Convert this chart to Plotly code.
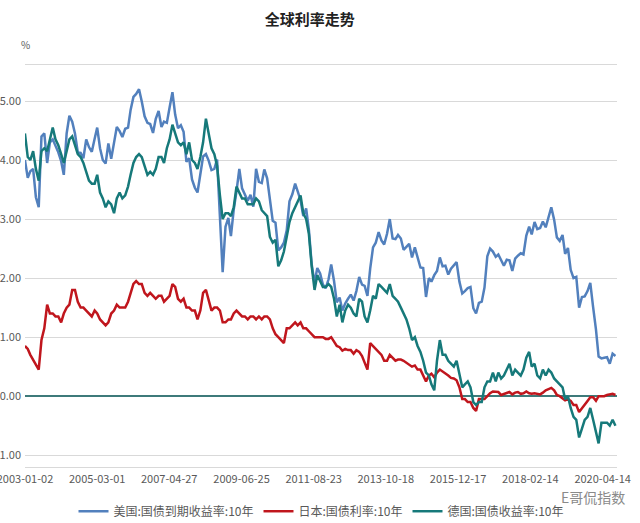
import pandas as pd
import plotly.graph_objects as go

# ---------------- data (monthly readings, Jan 2003 - Sep 2020) ----------------
start_month = "2003-01-01"

us_10y = [
    4.00, 3.70, 3.81, 3.85, 3.37, 3.20, 4.40, 4.45, 3.95, 4.30, 4.35, 4.25,
    4.13, 3.98, 3.75, 4.45, 4.75, 4.65, 4.45, 4.13, 4.12, 4.03, 4.35, 4.22,
    4.14, 4.36, 4.55, 4.20, 4.00, 3.94, 4.28, 4.02, 4.33, 4.56, 4.49, 4.39,
    4.53, 4.55, 4.85, 5.07, 5.12, 5.20, 4.99, 4.74, 4.63, 4.61, 4.46, 4.70,
    4.83, 4.56, 4.65, 4.63, 4.89, 5.15, 4.77, 4.54, 4.59, 4.48, 3.97, 4.03,
    3.67, 3.53, 3.45, 3.77, 4.06, 4.10, 3.99, 3.83, 3.85, 4.01, 2.93, 2.10,
    2.87, 3.02, 2.71, 3.16, 3.47, 3.85, 3.52, 3.40, 3.31, 3.41, 3.21, 3.85,
    3.63, 3.61, 3.84, 3.69, 3.31, 2.97, 2.94, 2.47, 2.52, 2.60, 2.81, 3.30,
    3.42, 3.60, 3.47, 3.32, 3.05, 3.18, 2.82, 2.23, 1.92, 2.17, 2.08, 1.89,
    1.83, 1.98, 2.23, 1.95, 1.59, 1.67, 1.45, 1.57, 1.65, 1.72, 1.62, 1.78,
    2.02, 1.89, 1.87, 1.70, 2.16, 2.52, 2.60, 2.78, 2.64, 2.57, 2.75, 3.00,
    2.67, 2.66, 2.73, 2.67, 2.48, 2.53, 2.58, 2.35, 2.52, 2.35, 2.18, 2.17,
    1.68, 2.00, 1.94, 2.05, 2.12, 2.35, 2.20, 2.21, 2.06, 2.16, 2.21, 2.27,
    1.94, 1.74, 1.78, 1.83, 1.85, 1.49, 1.40, 1.58, 1.60, 1.84, 2.37, 2.50,
    2.45, 2.36, 2.40, 2.29, 2.21, 2.31, 2.30, 2.12, 2.33, 2.38, 2.42, 2.40,
    2.72, 2.87, 2.74, 2.95, 2.83, 2.85, 2.96, 2.86, 3.05, 3.20, 2.99, 2.69,
    2.63, 2.73, 2.41, 2.51, 2.14, 2.00, 2.02, 1.50, 1.68, 1.69, 1.78, 1.92,
    1.51, 1.13, 0.67, 0.64, 0.65, 0.66, 0.55, 0.72, 0.68,
]

jp_10y = [
    0.85, 0.80, 0.70, 0.62, 0.55, 0.45, 0.95, 1.15, 1.55, 1.40, 1.40, 1.35,
    1.35, 1.25, 1.40, 1.50, 1.55, 1.80, 1.80, 1.60, 1.50, 1.50, 1.45, 1.40,
    1.35, 1.45, 1.40, 1.30, 1.25, 1.20, 1.25, 1.40, 1.45, 1.55, 1.50, 1.50,
    1.50, 1.60, 1.75, 1.90, 1.95, 1.90, 1.90, 1.75, 1.70, 1.75, 1.70, 1.65,
    1.70, 1.70, 1.60, 1.65, 1.70, 1.90, 1.85, 1.65, 1.60, 1.65, 1.50, 1.50,
    1.45, 1.45, 1.30, 1.45, 1.75, 1.80, 1.60, 1.45, 1.50, 1.50, 1.45, 1.25,
    1.25, 1.30, 1.30, 1.40, 1.45, 1.40, 1.35, 1.35, 1.30, 1.35, 1.35, 1.30,
    1.35, 1.30, 1.35, 1.35, 1.30, 1.15, 1.05, 1.00, 0.95, 0.90, 1.15, 1.15,
    1.20, 1.25, 1.20, 1.25, 1.15, 1.15, 1.10, 1.05, 1.00, 1.00, 1.00, 1.00,
    0.97, 0.97, 1.00, 0.92, 0.85, 0.83, 0.77, 0.80, 0.78, 0.78, 0.72, 0.78,
    0.75, 0.68, 0.58, 0.45, 0.90, 0.85, 0.80, 0.75, 0.70, 0.60, 0.60, 0.70,
    0.65, 0.60, 0.62, 0.62, 0.60, 0.57, 0.53, 0.50, 0.52, 0.45, 0.45, 0.35,
    0.25, 0.35, 0.38, 0.32, 0.40, 0.45, 0.42, 0.38, 0.35, 0.31, 0.30, 0.27,
    0.15, -0.05, -0.05, -0.10, -0.10, -0.20, -0.25, -0.05, -0.05, -0.05, 0.00, 0.05,
    0.08, 0.08, 0.07, 0.02, 0.04, 0.06, 0.07, 0.03, 0.06, 0.07, 0.04, 0.05,
    0.08, 0.05, 0.04, 0.05, 0.04, 0.03, 0.06, 0.10, 0.12, 0.14, 0.10, 0.02,
    0.00, -0.03, -0.07, -0.05, -0.08, -0.15, -0.15, -0.27, -0.20, -0.15, -0.08, -0.02,
    -0.02, -0.08, 0.00, 0.00, 0.00, 0.02, 0.03, 0.04, 0.02,
]

de_10y = [
    4.45, 4.05, 4.00, 4.15, 3.85, 3.65, 4.15, 4.20, 4.15, 4.35, 4.55, 4.35,
    4.25, 4.10, 3.95, 4.15, 4.35, 4.40, 4.25, 4.10, 4.05, 3.95, 3.80, 3.65,
    3.60, 3.60, 3.75, 3.45, 3.35, 3.20, 3.30, 3.25, 3.10, 3.35, 3.45, 3.35,
    3.40, 3.55, 3.75, 3.95, 4.05, 4.10, 4.05, 3.90, 3.75, 3.80, 3.75, 3.85,
    4.05, 4.05, 3.95, 4.20, 4.35, 4.60, 4.45, 4.30, 4.25, 4.30, 4.10, 4.30,
    4.00, 3.95, 3.85, 4.05, 4.30, 4.70, 4.45, 4.20, 4.10, 3.90, 3.40, 3.00,
    3.10, 3.10, 3.05, 3.20, 3.55, 3.45, 3.35, 3.35, 3.25, 3.25, 3.25, 3.35,
    3.30, 3.15, 3.10, 3.05, 2.70, 2.60, 2.65, 2.20, 2.30, 2.45, 2.70, 2.95,
    3.10, 3.20, 3.30, 3.40, 3.10, 3.00, 2.75, 2.20, 1.80, 2.05, 1.95, 1.85,
    1.85, 1.90, 1.85, 1.65, 1.35, 1.55, 1.25, 1.45, 1.55, 1.50, 1.40, 1.35,
    1.65, 1.60, 1.35, 1.25, 1.45, 1.70, 1.65, 1.90, 1.85, 1.80, 1.75, 1.90,
    1.70, 1.65, 1.60, 1.50, 1.40, 1.30, 1.15, 0.95, 1.00, 0.85, 0.75, 0.60,
    0.40, 0.35, 0.20, 0.10, 0.60, 0.95, 0.70, 0.70, 0.60, 0.55, 0.50, 0.60,
    0.40, 0.15, 0.20, 0.25, 0.15, -0.10, -0.15, -0.10, -0.10, 0.15, 0.25, 0.25,
    0.40, 0.25, 0.40, 0.30, 0.35, 0.45, 0.55, 0.35, 0.45, 0.40, 0.35, 0.45,
    0.65, 0.75, 0.50, 0.55, 0.35, 0.30, 0.45, 0.35, 0.45, 0.40, 0.30, 0.25,
    0.20, 0.15, -0.05, 0.00, -0.20, -0.35, -0.40, -0.70, -0.55, -0.40, -0.35, -0.20,
    -0.40, -0.60, -0.80, -0.45, -0.45, -0.45, -0.50, -0.40, -0.50,
]

series_names = ["美国:国债到期收益率:10年", "日本:国债利率:10年", "德国:国债收益率:10年"]
tick_labels = ["2003-01-02", "2005-03-01", "2007-04-27", "2009-06-25", "2011-08-23",
               "2013-10-18", "2015-12-17", "2018-02-14", "2020-04-14"]
y_ticks = [-1, 0, 1, 2, 3, 4, 5]

dates = pd.date_range(start_month, periods=len(us_10y), freq="MS")

# ---------------- styling ----------------
colors = ["#5280bd", "#c0161d", "#16797a"]
FONT = "Noto Sans CJK SC, Microsoft YaHei, sans-serif"
GRAY = "#595959"
x_range = ["2003-01-02", "2020-09-18"]
y_range = [-1.20, 5.61]
zero_pos = (0 - y_range[0]) / (y_range[1] - y_range[0])

fig = go.Figure()
for name, vals, col in zip(series_names, [us_10y, jp_10y, de_10y], colors):
    fig.add_trace(go.Scatter(x=dates, y=vals, mode="lines", name=name,
                             line=dict(color=col, width=2.5)))

fig.update_layout(
    width=640, height=523, autosize=False,
    margin=dict(l=25, r=23, t=65, b=56, autoexpand=False),
    paper_bgcolor="white", plot_bgcolor="white",
    font=dict(family=FONT, color=GRAY, size=11),
    title=dict(text="<b>全球利率走势</b>", x=0.484, xanchor="center",
               y=1 - 20 / 523, yanchor="middle", yref="container",
               font=dict(size=15, color="#222222", family=FONT)),
    showlegend=True,
    legend=dict(orientation="h", x=0.50, xanchor="center", y=-0.11, yanchor="middle",
                font=dict(size=12, color=GRAY), itemwidth=30,
                bgcolor="rgba(0,0,0,0)"),
    xaxis=dict(type="date", range=x_range, tickvals=tick_labels, ticktext=tick_labels,
               showgrid=False, showline=True, mirror=True, linecolor="#d9d9d9",
               linewidth=1, ticks="", tickfont=dict(size=11, color=GRAY),
               zeroline=False, automargin=False, ticklabelstandoff=2,
               ticklabeloverflow="allow"),
    xaxis2=dict(type="date", range=x_range, overlaying="x", anchor="free",
                position=zero_pos, tickvals=tick_labels, showticklabels=False,
                ticks="outside", ticklen=4, tickcolor="#3e7a7a", tickwidth=1,
                showline=False, showgrid=False, zeroline=False, layer="below traces",
                automargin=False),
    yaxis=dict(range=y_range, tickvals=y_ticks, tickformat=".2f",
               showgrid=True, gridcolor="#d9d9d9", gridwidth=1,
               zeroline=True, zerolinecolor="#3e7a7a", zerolinewidth=2,
               showline=False, ticks="", ticklabelstandoff=3, automargin=False,
               ticklabeloverflow="allow",
               tickfont=dict(size=11, color=GRAY)),
)

fig.add_annotation(text="%", xref="paper", yref="paper", x=0, y=1.05,
                   xanchor="center", yanchor="middle", showarrow=False,
                   font=dict(size=10, color=GRAY))
fig.add_annotation(text="E哥侃指数", xref="paper", yref="paper", x=0.96, y=-0.075,
                   xanchor="center", yanchor="middle", showarrow=False,
                   font=dict(size=14, color="#8a8a8a"))

fig.write_html("out.html")
